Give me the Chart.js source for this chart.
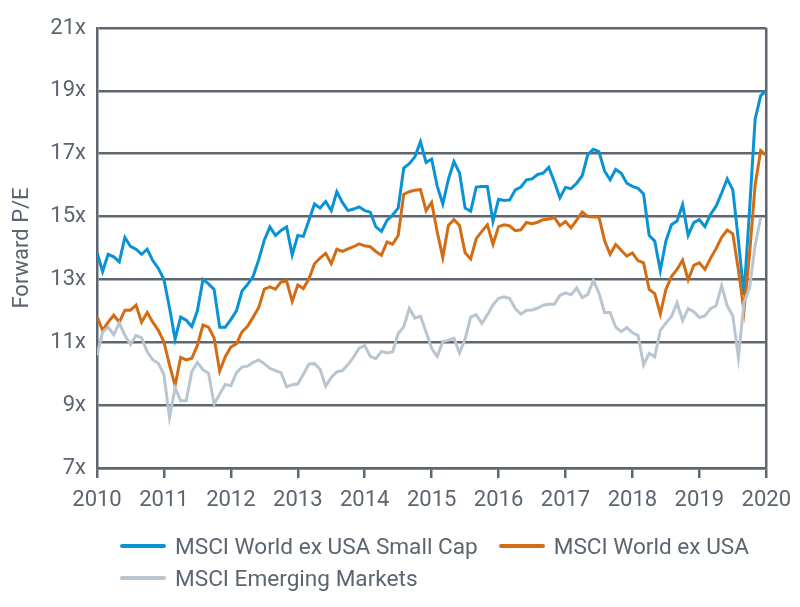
<!DOCTYPE html>
<html>
<head>
<meta charset="utf-8">
<script src="https://cdn.jsdelivr.net/npm/chart.js@4"></script>
<style>
    html, body { margin: 0; padding: 0; background: #fff; }
    #wrap { position: relative; width: 800px; height: 607px; }
    #legend {
        position: absolute; left: 120px; top: 530px; width: 675px;
        display: flex; flex-wrap: wrap;
        font-family: Roboto, 'DejaVu Sans', sans-serif;
        font-size: 22.6px; color: #5b6571;
    }
    .item { display: flex; align-items: center; height: 32px; margin-right: 21px; }
    .swatch { width: 46px; height: 4px; margin-right: 9px; border-radius: 2px; }
</style>
</head>
<body>
<div id="wrap">
    <canvas id="peChart" width="800" height="607"></canvas>
    <div id="legend"></div>
</div>
<script>
// monthly forward P/E, Jan 2010 .. Jan 2020
const smallCap = [
    13.87, 13.25, 13.8, 13.72, 13.56, 14.34, 14.05, 13.96, 13.8, 13.96, 13.6, 13.35,
    13.0, 12.1, 11.1, 11.8, 11.7, 11.5, 12.0, 13.0, 12.86, 12.68, 11.48, 11.48,
    11.72, 12.0, 12.63, 12.84, 13.1, 13.63, 14.25, 14.67, 14.4, 14.56, 14.67, 13.78,
    14.4, 14.37, 14.88, 15.4, 15.27, 15.48, 15.19, 15.79, 15.45, 15.19, 15.24, 15.31,
    15.19, 15.14, 14.67, 14.53, 14.88, 15.05, 15.27, 16.54, 16.68, 16.9, 17.38, 16.72,
    16.83, 15.97, 15.4, 16.18, 16.75, 16.39, 15.27, 15.17, 15.94, 15.96, 15.96, 14.85,
    15.55, 15.51, 15.53, 15.85, 15.94, 16.17, 16.2, 16.34, 16.38, 16.57, 16.11, 15.6,
    15.93, 15.89, 16.06, 16.3, 16.97, 17.14, 17.07, 16.45, 16.17, 16.5, 16.38, 16.06,
    15.96, 15.9, 15.72, 14.4, 14.22, 13.28, 14.22, 14.74, 14.86, 15.38, 14.4, 14.81,
    14.9, 14.68, 15.07, 15.33, 15.75, 16.2, 15.85, 14.24, 12.5, 15.2, 18.1, 18.85,
    19.0
];
const worldExUsa = [
    11.82, 11.38, 11.64, 11.86, 11.64, 12.02, 12.02, 12.18, 11.64, 11.95, 11.64, 11.38,
    11.01, 10.28, 9.62, 10.52, 10.44, 10.49, 10.9, 11.55, 11.48, 11.14, 10.08, 10.54,
    10.85, 10.95, 11.33, 11.51, 11.8, 12.11, 12.69, 12.76, 12.69, 12.92, 12.95, 12.3,
    12.82, 12.71, 13.02, 13.5, 13.68, 13.83, 13.5, 13.96, 13.89, 13.97, 14.04, 14.13,
    14.07, 14.04, 13.89, 13.77, 14.19, 14.12, 14.4, 15.71, 15.79, 15.84, 15.86, 15.19,
    15.45, 14.51, 13.7, 14.72, 14.9, 14.72, 13.85, 13.65, 14.3, 14.53, 14.74, 14.12,
    14.68, 14.74, 14.7, 14.55, 14.58, 14.81, 14.77, 14.82, 14.9, 14.92, 14.97, 14.71,
    14.84, 14.64, 14.89, 15.15, 15.0, 14.99, 14.99, 14.24, 13.8, 14.11, 13.93, 13.74,
    13.84, 13.6, 13.53, 12.68, 12.55, 11.9, 12.68, 13.09, 13.32, 13.61, 12.99, 13.45,
    13.53, 13.32, 13.67, 13.98, 14.34, 14.57, 14.45, 13.3, 12.0, 13.8, 16.0, 17.1,
    16.95
];
const emerging = [
    10.59, 11.32, 11.48, 11.24, 11.61, 11.22, 10.93, 11.22, 11.14, 10.7, 10.44, 10.33,
    9.97, 8.61, 9.55, 9.14, 9.14, 10.07, 10.36, 10.12, 10.02, 9.03, 9.35, 9.66,
    9.62, 10.03, 10.21, 10.24, 10.36, 10.44, 10.32, 10.17, 10.1, 10.03, 9.58, 9.65,
    9.67, 9.98, 10.31, 10.32, 10.14, 9.6, 9.88, 10.06, 10.1, 10.29, 10.53, 10.81,
    10.9, 10.55, 10.48, 10.71, 10.66, 10.69, 11.28, 11.49, 12.08, 11.77, 11.83, 11.33,
    10.81, 10.55, 11.02, 11.06, 11.13, 10.66, 11.1, 11.8, 11.88, 11.6, 11.88, 12.19,
    12.4, 12.45, 12.39, 12.07, 11.9, 12.02, 12.03, 12.09, 12.18, 12.21, 12.21, 12.49,
    12.57, 12.51, 12.73, 12.42, 12.52, 12.97, 12.57, 11.95, 11.95, 11.48, 11.34, 11.47,
    11.3, 11.22, 10.28, 10.65, 10.54, 11.38, 11.61, 11.82, 12.26, 11.69, 12.07, 11.97,
    11.79, 11.84, 12.07, 12.16, 12.8, 12.16, 11.84, 10.51, 12.26, 12.73, 14.08, 14.97,
    null
];
const seriesNames = ['MSCI World ex USA Small Cap', 'MSCI World ex USA', 'MSCI Emerging Markets'];
const seriesColors = ['#0a93d4', '#d46c14', '#b9c5d1'];

// x values as decimal years, one per month
const dates = [];
for (let i = 0; i < smallCap.length; i++) dates.push(2010 + i / 12);

const gridColor = '#5e6670';
const textColor = '#5b6571';
const font = { family: "Roboto, 'DejaVu Sans', sans-serif", size: 22 };

function toPoints(values) {
    return values.map((v, i) => ({ x: dates[i], y: v }));
}

const datasets = [smallCap, worldExUsa, emerging].map((values, index) => ({
    label: seriesNames[index],
    data: toPoints(values),
    borderColor: seriesColors[index],
    backgroundColor: seriesColors[index],
    borderWidth: 3,
    pointRadius: 0,
    tension: 0,
    spanGaps: false
})).reverse(); // draw emerging markets underneath

new Chart(document.getElementById('peChart').getContext('2d'), {
    type: 'line',
    data: { datasets: datasets },
    options: {
        responsive: false,
        animation: false,
        layout: { padding: { top: 28, right: 28, bottom: 99, left: 0 } },
        plugins: {
            legend: { display: false },
            tooltip: { enabled: false }
        },
        scales: {
            x: {
                type: 'linear',
                min: 2010,
                max: 2020,
                afterFit: s => { s.height = 40; },
                ticks: {
                    stepSize: 1,
                    padding: 9,
                    color: textColor,
                    font: font,
                    callback: v => String(v)
                },
                grid: {
                    color: c => (c.tick && c.tick.value === 2020) ? gridColor : 'transparent',
                    tickColor: gridColor,
                    tickLength: 10,
                    lineWidth: 2.5
                },
                border: { color: gridColor, width: 2.5 }
            },
            y: {
                min: 7,
                max: 21,
                afterFit: s => { s.width = 97; },
                ticks: {
                    stepSize: 2,
                    padding: 11,
                    color: textColor,
                    font: font,
                    callback: v => v + 'x'
                },
                title: {
                    display: true,
                    text: 'Forward P/E',
                    color: textColor,
                    font: font,
                    padding: { top: 9, bottom: 0 }
                },
                grid: { color: gridColor, lineWidth: 2.5, drawTicks: false },
                border: { display: true, color: gridColor, width: 2.5 }
            }
        }
    }
});

// legend laid out like the original: left aligned, wrapping
const legend = document.getElementById('legend');
seriesNames.forEach((name, i) => {
    const item = document.createElement('div');
    item.className = 'item';
    item.innerHTML = '<span class="swatch" style="background:' + seriesColors[i] + '"></span>' + name;
    legend.appendChild(item);
});
</script>
</body>
</html>
